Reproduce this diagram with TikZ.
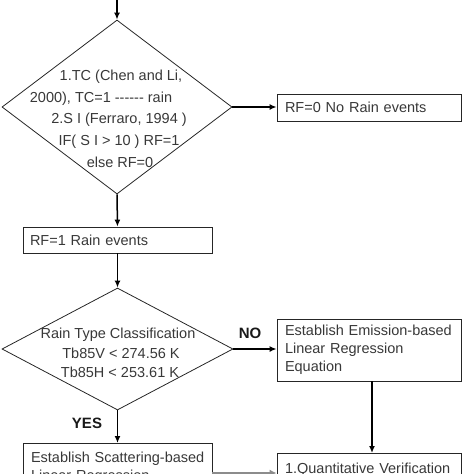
\documentclass[tikz,border=0pt]{standalone}
\usepackage{fontspec}
\setmainfont{Liberation Sans}
\usetikzlibrary{shapes.geometric,arrows.meta,calc}
\begin{document}
\begin{tikzpicture}[x=1pt,y=-1pt,
  txt/.style={font=\fontsize{14.5}{18}\selectfont, text=black!78},
  boxn/.style={draw=black!85, line width=0.8pt, rectangle, txt, align=left, inner xsep=8pt},
  dia/.style={draw=black!85, line width=0.8pt, diamond, inner sep=0pt},
  arr/.style={line width=1.5pt, -{Latex[length=7pt,width=6pt]}},
  garr/.style={line width=2.6pt, draw=black!45, -{Latex[length=7pt,width=7pt]}},
  lab/.style={font=\fontsize{15}{18}\selectfont\bfseries, text=black!90}
]
\useasboundingbox (0,0) rectangle (474,474);
\clip (0,0) rectangle (474,474);

\coordinate (start) at (117,0);
\node[dia, minimum width=230pt, minimum height=174pt] (d1) at (117,107) {};
\node[txt, anchor=base] (d1a) at (121,80) {1.TC (Chen and Li,};
\node[txt, anchor=base] (d1b) at (101,102) {2000), TC=1 {-}{-}{-}{-}{-}{-} rain};
\node[txt, anchor=base] (d1c) at (119,123) {2.S I (Ferraro, 1994 )};
\node[txt, anchor=base] (d1d) at (119,145) {IF( S I > 10 ) RF=1};
\node[txt, anchor=base] (d1e) at (120,167) {else RF=0};

\node[boxn, text width=168pt, minimum height=27pt] (rf0) at (369,107.5) {RF=0 No Rain events};
\node[boxn, inner xsep=7pt, text width=175pt, minimum height=26pt] (rf1) at (117.5,240) {RF=1 Rain events};

\node[dia, minimum width=231pt, minimum height=122pt] (d2) at (117.5,349) {};
\node[txt, anchor=base] (d2a) at (118,338) {Rain Type Classification};
\node[txt, anchor=base] (d2b) at (121,358) {Tb85V < 274.56 K};
\node[txt, anchor=base] (d2c) at (120,377) {Tb85H < 253.61 K};

\node[boxn, text width=168pt, minimum height=62pt] (emis) at (369,350)
  {\mbox{Establish Emission-based}\\Linear Regression\\Equation};

\node[boxn, anchor=north, inner xsep=8pt, inner ysep=8.4pt, text width=173pt, text depth=40pt] (scat) at (117.5,443)
  {\mbox{Establish Scattering-based}\\\mbox{Linear Regression}};
\node[boxn, anchor=north, inner xsep=8pt, inner ysep=9.4pt, text width=168pt, text depth=40pt] (quant) at (369,453)
  {\mbox{1.Quantitative Verification}};

\node[lab] (no) at (250,333) {NO};
\node[lab] (yes) at (87,423) {YES};

\draw[arr] (start) -- (d1.north);
\draw[arr] (d1.east) -- (d1.east -| rf0.west);
\draw[arr] (d1.south) -- (rf1.north);
\draw[arr] (rf1.south) -- (d2.north);
\draw[arr] (d2.east) -- (d2.east -| emis.west);
\draw[arr] (d2.south) -- (scat.north);
\draw[arr] ($(emis.south)+(3,0)$) -- ($(quant.north)+(3,0)$);
\draw[garr] ($(scat.north east)+(0,30)$) -- ($(quant.north west)+(0,20)$);
\end{tikzpicture}
\end{document}
